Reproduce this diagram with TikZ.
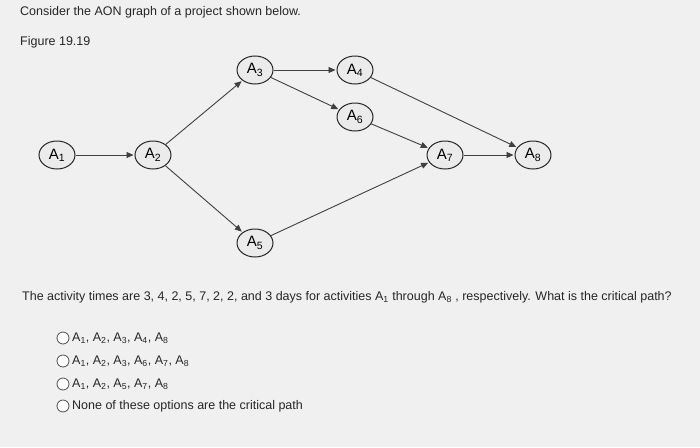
\documentclass[tikz,border=0pt]{standalone}
\usepackage{fontspec}
\setmainfont{Liberation Sans}
\usetikzlibrary{shapes.geometric,arrows.meta}
\newcommand{\mysub}[1]{\textsubscript{#1}}
\begin{document}
\begin{tikzpicture}[x=1pt,y=-1pt,
  act/.style={ellipse,draw=black!85,line width=1pt,fill=black!8,minimum width=36pt,minimum height=28pt,inner sep=0pt,font=\fontsize{15}{15}\selectfont},
  con/.style={-{Triangle[length=7pt,width=6pt]},line width=0.9pt,black!75,shorten >=1pt},
  txt/.style={anchor=west,inner sep=0pt,font=\fontsize{12.5}{14}\selectfont,text=black!85},
  opt/.style={circle,draw=black!70,line width=0.8pt,fill=white,minimum size=12pt,inner sep=0pt}]
\fill[black!6] (0,0) rectangle (700,447);
\useasboundingbox (0,0) rectangle (700,447);
\node[txt] (t1) at (20,12) {Consider the AON graph of a project shown below.};
\node[txt] (t2) at (20,42) {Figure 19.19};
\node[act] (a1) at (57,155) {A\mysub{1}};
\node[act] (a2) at (153,155) {A\mysub{2}};
\node[act] (a3) at (255,70) {A\mysub{3}};
\node[act] (a4) at (355,70) {A\mysub{4}};
\node[act] (a6) at (355,117) {A\mysub{6}};
\node[act] (a7) at (445,155) {A\mysub{7}};
\node[act] (a8) at (533,155) {A\mysub{8}};
\node[act] (a5) at (255,243) {A\mysub{5}};
\draw[con] (a1) -- (a2);
\draw[con] (a2) -- (a3);
\draw[con] (a2) -- (a5);
\draw[con] (a3) -- (a4);
\draw[con] (a3) -- (a6);
\draw[con] (a4) -- (a8);
\draw[con] (a6) -- (a7);
\draw[con] (a5) -- (a7);
\draw[con] (a7) -- (a8);
\node[txt] (q) at (22,297) {The activity times are 3, 4, 2, 5, 7, 2, 2, and 3 days for activities A\mysub{1} through A\mysub{8} , respectively. What is the critical path?};
\node[opt] (o1) at (63,338) {};
\node[txt] (l1) at (72,338) {A\mysub{1}, A\mysub{2}, A\mysub{3}, A\mysub{4}, A\mysub{8}};
\node[opt] (o2) at (63,361) {};
\node[txt] (l2) at (72,361) {A\mysub{1}, A\mysub{2}, A\mysub{3}, A\mysub{6}, A\mysub{7}, A\mysub{8}};
\node[opt] (o3) at (63,384) {};
\node[txt] (l3) at (72,384) {A\mysub{1}, A\mysub{2}, A\mysub{5}, A\mysub{7}, A\mysub{8}};
\node[opt] (o4) at (63,406) {};
\node[txt] (l4) at (72,406) {None of these options are the critical path};
\end{tikzpicture}
\end{document}
